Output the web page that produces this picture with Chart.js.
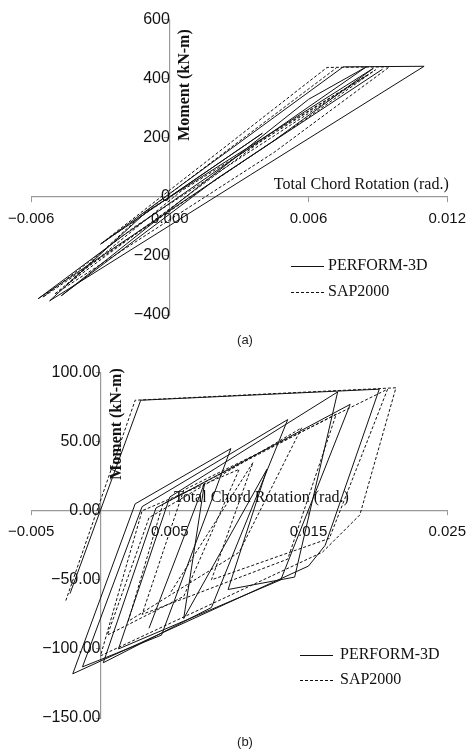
<!DOCTYPE html>
<html><head><meta charset="utf-8">
<script src="https://cdn.jsdelivr.net/npm/chart.js@4"></script>
<style>
body{margin:0;width:474px;height:751px;background:#fff;position:relative;overflow:hidden;font-family:"Liberation Serif",serif}
canvas{position:absolute;left:0}
.cap{position:absolute;font:13px "Liberation Sans",Arial;color:#222;transform:translateX(-50%)}
.lg{position:absolute;font-size:16px;color:#111;}
.ln{position:absolute;width:33px;border-top:1.2px solid #111}
.dl{border-top-style:dashed}
</style></head><body>
<div style="position:absolute;left:0;top:0;width:474px;height:360px"><canvas id="c1"></canvas></div>
<div style="position:absolute;left:0;top:360px;width:474px;height:391px"><canvas id="c2"></canvas></div>
<div class="cap" style="left:245px;top:332px">(a)</div>
<div class="cap" style="left:245px;top:734px">(b)</div>
<div class="ln" style="left:291px;top:266px"></div><div class="lg" style="left:328px;top:256px">PERFORM-3D</div>
<div class="ln dl" style="left:291px;top:292px"></div><div class="lg" style="left:328px;top:282px">SAP2000</div>
<div class="ln" style="left:300px;top:655px"></div><div class="lg" style="left:340px;top:645px">PERFORM-3D</div>
<div class="ln dl" style="left:300px;top:680px"></div><div class="lg" style="left:340px;top:670px">SAP2000</div>
<script>
const seriesNames=["PERFORM-3D","SAP2000"];
// (a)
const xTicksA=[-0.006,0,0.006,0.012];
const xLabelsA=["\u22120.006","0.000","0.006","0.012"];
const yTicksA=[-400,-200,0,200,400,600];
const yLabelsA=["\u2212400","\u2212200","0","200","400","600"];
const performA=[[0,0],[0.004,215],[-0.003,-160],[0.0075,440],[0.011,442],[0.0035,75],[-0.0052,-352],[-0.001,-50],[0.0088,435],[0.0045,190],[-0.0057,-345],[-0.002,-130],[0.0085,440],[0.006,330],[-0.0047,-335],[0.002,60],[0.0092,432]];
const sapA=[[0,0],[-0.003,-160],[0.0068,438],[0.0095,440],[0.0045,150],[-0.005,-330],[0.0005,20],[0.0089,430],[0.006,270],[-0.0055,-340],[-0.0015,-100],[0.0085,410],[0.0045,220],[-0.0045,-300],[-0.0012,-60],[0.0072,436]];
// (b)
const xTicksB=[-0.005,0.005,0.015,0.025];
const xLabelsB=["\u22120.005","0.005","0.015","0.025"];
const yTicksB=[-150,-100,-50,0,50,100];
const yLabelsB=["\u2212150.00","\u2212100.00","\u221250.00","0.00","50.00","100.00"];
const performB=[[-0.0022,-60],[0.0029,80],[0.0201,88],[0.0162,-25],[0.0150,-40],[-0.0020,-118],[0.0025,5],[0.0094,45],[0.0044,-90],[-0.0013,-113],[0.0030,3],[0.0135,66],[0.0080,-70],[0.0002,-110],[0.0040,2],[0.0180,77],[0.0130,-50],[0.0013,-100],[0.0050,10],[0.0171,86],[0.0140,-48],[0.0092,-57],[0.0120,30],[0.0060,-78],[0.0075,20],[0.0035,-85]];
const sapB=[[-0.0025,-65],[0.0025,80],[0.0213,89],[0.0187,-3],[0.0160,-30],[0.0000,-105],[0.0030,0],[0.0100,30],[0.0060,-62],[0.0005,-90],[0.0035,-5],[0.0145,60],[0.0100,-30],[0.0020,-80],[0.0045,5],[0.0170,70],[0.0135,-35],[0.0030,-75],[0.0060,15],[0.0207,88],[0.0165,-20],[0.0080,-50],[0.0110,35],[0.0050,-60]];

function pts(a){return a.map(p=>({x:p[0],y:p[1]}));}
function titles(o){return{id:'t',afterDraw(c){const g=c.ctx;const xs=c.scales.x,ys=c.scales.y;g.save();g.fillStyle='#111';g.font='16px "Liberation Serif"';
g.textAlign='left';g.textBaseline='middle';g.fillText('Total Chord Rotation (rad.)',xs.getPixelForValue(o.tx),ys.getPixelForValue(0)-o.ty);
g.translate(xs.getPixelForValue(0)+o.mx,o.my);g.rotate(-Math.PI/2);g.textAlign='center';g.font='bold 16px "Liberation Serif"';g.fillText('Moment (kN-m)',0,0);g.restore();}};}
function mk(id,pad,P,S,xt,xl,yt,yl,tl,tp,xp,t){
 const ax={type:'linear',border:{color:'#999',width:1.2},grid:{drawOnChartArea:false,color:'#999',tickLength:tl}};
 new Chart(document.getElementById(id),{type:'scatter',
 data:{datasets:[{label:seriesNames[0],data:pts(P),showLine:true,borderColor:'#111',borderWidth:1,pointRadius:0},
 {label:seriesNames[1],data:pts(S),showLine:true,borderColor:'#111',borderWidth:1,borderDash:[3,2],pointRadius:0}]},
 options:{animation:false,responsive:true,maintainAspectRatio:false,layout:{padding:pad},
 plugins:{legend:{display:false},tooltip:{enabled:false}},
 scales:{x:{...ax,position:{y:0},min:xt[0],max:xt[xt.length-1],afterBuildTicks:s=>{s.ticks=xt.map(v=>({value:v}));},
  ticks:{padding:xp,color:'#111',font:{family:'Liberation Sans',size:15},callback:(v,i)=>xl[i],maxRotation:0,autoSkip:false}},
 y:{...ax,position:{x:0},min:yt[0],max:yt[yt.length-1],afterBuildTicks:s=>{s.ticks=yt.map(v=>({value:v}));},
  ticks:{padding:tp,color:'#111',font:{family:'Liberation Sans',size:16},callback:(v,i)=>yl[i],autoSkip:false}}}},
 plugins:[titles(t)]});
}
mk('c1',{left:26,right:21,top:6,bottom:45},performA,sapA,xTicksA,xLabelsA,yTicksA,yLabelsA,5,10,8,{tx:0.0045,ty:12,mx:15,my:85});
mk('c2',{left:26,right:22,top:10,bottom:33},performB,sapB,xTicksB,xLabelsB,yTicksB,yLabelsB,4,3,8,{tx:0.0053,ty:13,mx:16,my:64});
</script></body></html>
